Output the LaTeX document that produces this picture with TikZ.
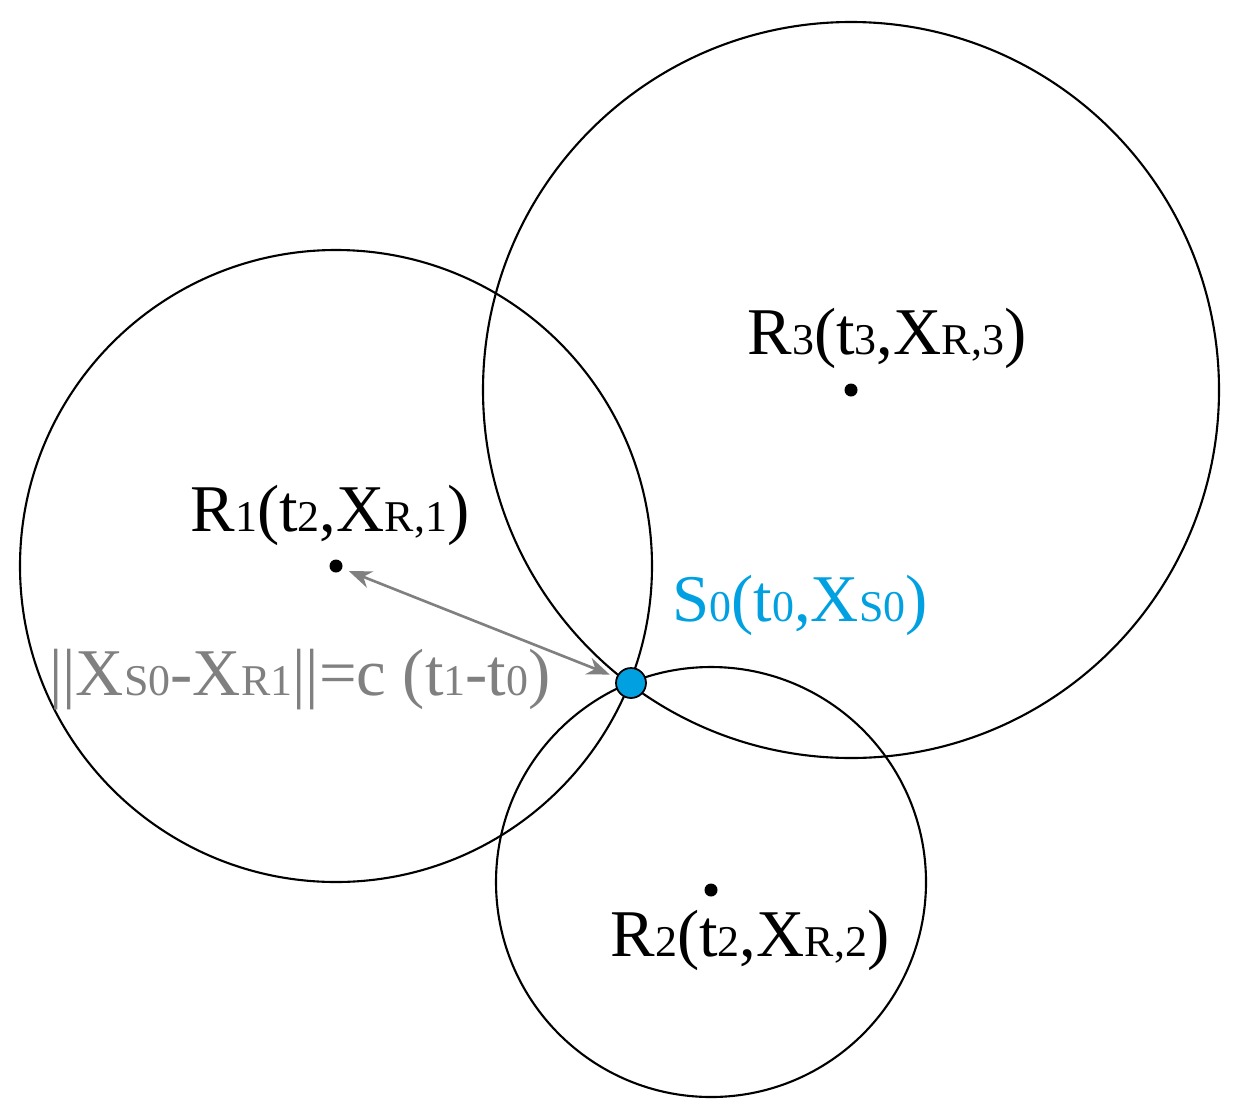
\documentclass[tikz,border=0pt]{standalone}
\usepackage{fontspec}
\setmainfont{Liberation Serif}
\usetikzlibrary{arrows.meta}
\newcommand{\sm}[1]{{\fontsize{25}{25}\selectfont #1}}
\definecolor{sblue}{RGB}{0,160,225}
\definecolor{lgray}{RGB}{128,128,128}
\begin{document}
\begin{tikzpicture}[x=0.02cm,y=-0.02cm,
  circ/.style={draw,line width=1.2pt},
  lbl/.style={font=\fontsize{38}{38}\selectfont,inner sep=0pt},
  dot/.style={circle,fill=black,inner sep=0pt,minimum size=0.26cm}]
\useasboundingbox (0,0) rectangle (1236,1119);
\draw[circ] (336,566) circle[radius=316];
\draw[circ] (851,390) circle[radius=368];
\draw[circ] (711,882) circle[radius=215];
\node[dot] (r1) at (336,566) {};
\node[dot] (r3) at (851,390) {};
\node[dot] (r2) at (711,890) {};
\node[circle,fill=sblue,draw=black,line width=1pt,minimum size=0.6cm,inner sep=0pt] (s0) at (631,683) {};
\draw[lgray,line width=1.5pt,{Stealth[length=13pt,width=10pt]}-{Stealth[length=13pt,width=10pt]},shorten <=4pt,shorten >=4pt] (r1) -- (s0);
\node[lbl] (l1) at (330,515) {R\sm{1}(t\sm{2},X\sm{R,1})};
\node[lbl] (l3) at (887,338) {R\sm{3}(t\sm{3},X\sm{R,3})};
\node[lbl] (l2) at (750,940) {R\sm{2}(t\sm{2},X\sm{R,2})};
\node[lbl,text=sblue] (ls) at (800,605) {S\sm{0}(t\sm{0},X\sm{S0})};
\node[lbl,text=lgray] (ld) at (300,680) {||X\sm{S0}-X\sm{R1}||=c (t\sm{1}-t\sm{0})};
\end{tikzpicture}
\end{document}
